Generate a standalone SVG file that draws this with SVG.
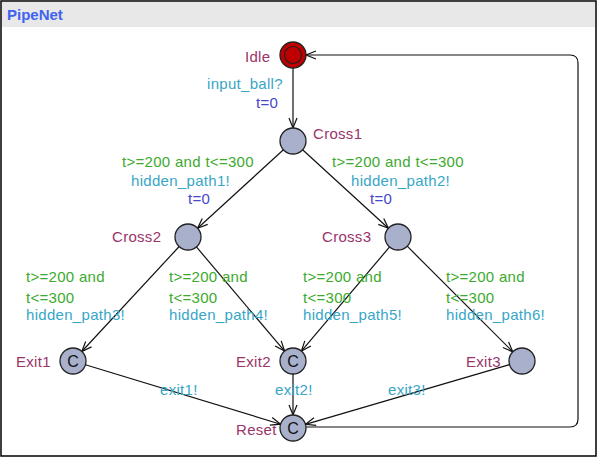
<svg xmlns="http://www.w3.org/2000/svg" width="598" height="458" viewBox="0 0 598 458">
<style>
text{font-family:"Liberation Sans",Arial,sans-serif;font-size:15px;letter-spacing:0.3px}
.name{fill:#9a3469}
.guard{fill:#3caa2e}
.sync{fill:#38a6c6}
.assign{fill:#4747cc}
.loc{fill:#a8b0cc;stroke:#222;stroke-width:1.3}
.edge{fill:none;stroke:#111;stroke-width:1.2;marker-end:url(#arr)}
.c{font-size:16px;letter-spacing:0;fill:#111}
</style>
<defs>
<marker id="arr" markerUnits="userSpaceOnUse" markerWidth="14" markerHeight="12" viewBox="-12 -6 14 12" refX="0" refY="0" orient="auto">
<path d="M-10,-4 L0,0 L-10,4" fill="none" stroke="#111" stroke-width="1.2"/>
</marker>
</defs>
<rect x="1" y="1" width="595" height="455" fill="#fff" stroke="#000" stroke-width="1.5"/>
<rect x="2" y="2" width="593" height="25" fill="#e8e8e8"/>
<text x="7" y="20" style="font-weight:bold;fill:#3f63f0;font-size:15px;letter-spacing:0">PipeNet</text>
<g id="connectors">
<path class="edge" d="M293,68 V128"/>
<path class="edge" d="M283.4,149.8 L197.6,228.2"/>
<path class="edge" d="M302.6,149.8 L388.4,228.2"/>
<path class="edge" d="M179.2,246.5 L81.8,351.5"/>
<path class="edge" d="M196.4,246.9 L284.6,351.1"/>
<path class="edge" d="M389.6,246.9 L301.4,351.1"/>
<path class="edge" d="M407.2,246.2 L512.8,351.8"/>
<path class="edge" d="M85.4,364.8 L280.6,424.2"/>
<path class="edge" d="M293,374 V415"/>
<path class="edge" d="M509.5,364.7 L305.5,424.3"/>
<path class="edge" d="M306,427 H570 Q578,427 578,419 V63 Q578,55 570,55 H306"/>
<text class="sync" x="207" y="89">input_ball?</text>
<text class="assign" x="256" y="108">t=0</text>
<text class="guard" x="122" y="167">t&gt;=200 and t&lt;=300</text>
<text class="sync" x="131" y="186">hidden_path1!</text>
<text class="assign" x="188" y="204">t=0</text>
<text class="guard" x="332" y="167">t&gt;=200 and t&lt;=300</text>
<text class="sync" x="351" y="186">hidden_path2!</text>
<text class="assign" x="370" y="204">t=0</text>
<text class="guard" x="26" y="282">t&gt;=200 and</text>
<text class="guard" x="26" y="303">t&lt;=300</text>
<text class="sync" x="26" y="320">hidden_path3!</text>
<text class="guard" x="169" y="282">t&gt;=200 and</text>
<text class="guard" x="169" y="303">t&lt;=300</text>
<text class="sync" x="169" y="320">hidden_path4!</text>
<text class="guard" x="303" y="282">t&gt;=200 and</text>
<text class="guard" x="303" y="303">t&lt;=300</text>
<text class="sync" x="303" y="320">hidden_path5!</text>
<text class="guard" x="446" y="282">t&gt;=200 and</text>
<text class="guard" x="446" y="303">t&lt;=300</text>
<text class="sync" x="446" y="320">hidden_path6!</text>
<text class="sync" x="160" y="395">exit1!</text>
<text class="sync" x="275" y="395">exit2!</text>
<text class="sync" x="388" y="395">exit3!</text>
</g>
<g id="Idle">
<circle cx="293" cy="55" r="13" fill="#c00000" stroke="#222" stroke-width="1.3"/>
<circle cx="293" cy="55" r="8.5" fill="none" stroke="#222" stroke-width="1.2"/>
<text class="name" x="245" y="62">Idle</text>
</g>
<g id="Cross1">
<circle class="loc" cx="293" cy="141" r="13"/>
<text class="name" x="313" y="139">Cross1</text>
</g>
<g id="Cross2">
<circle class="loc" cx="188" cy="237" r="13"/>
<text class="name" x="112" y="242">Cross2</text>
</g>
<g id="Cross3">
<circle class="loc" cx="398" cy="237" r="13"/>
<text class="name" x="322" y="242">Cross3</text>
</g>
<g id="Exit1">
<circle class="loc" cx="73" cy="361" r="13"/>
<text class="c" x="73" y="367" text-anchor="middle">C</text>
<text class="name" x="16" y="367">Exit1</text>
</g>
<g id="Exit2">
<circle class="loc" cx="293" cy="361" r="13"/>
<text class="c" x="293" y="367" text-anchor="middle">C</text>
<text class="name" x="236" y="367">Exit2</text>
</g>
<g id="Exit3">
<circle class="loc" cx="522" cy="361" r="13"/>
<text class="name" x="466" y="367">Exit3</text>
</g>
<g id="Reset">
<circle class="loc" cx="293" cy="428" r="13"/>
<text class="c" x="293" y="434" text-anchor="middle">C</text>
<text class="name" x="236" y="435">Reset</text>
</g>
</svg>
